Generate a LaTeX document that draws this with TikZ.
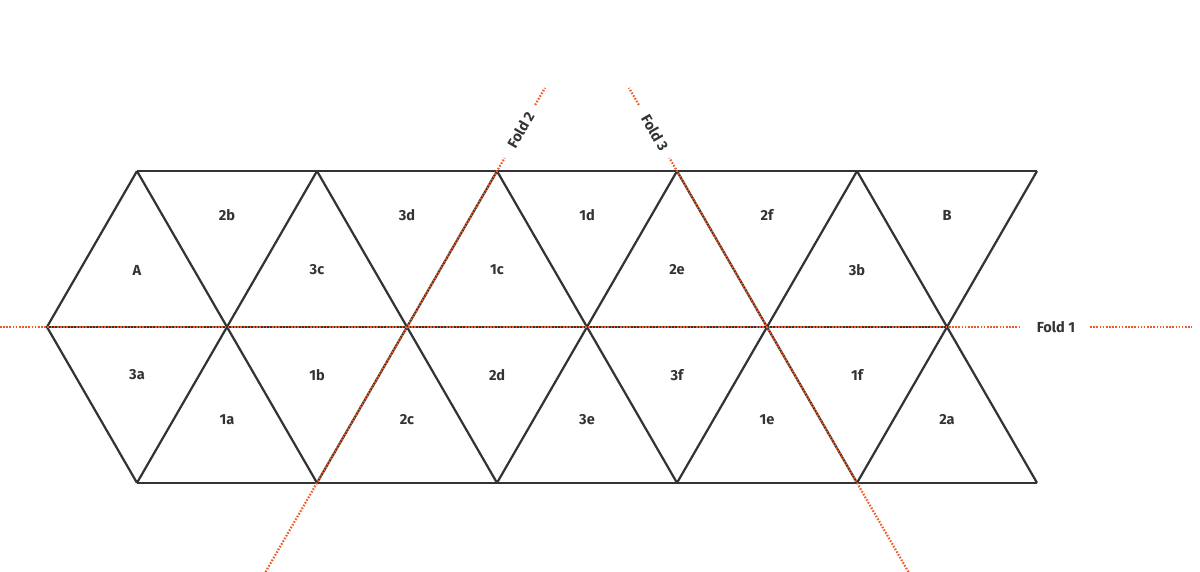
\documentclass[tikz,border=0pt]{standalone}
\usepackage{fontspec}
\setmainfont{Fira Sans}
\definecolor{foldorange}{RGB}{240,90,40}
\tikzset{fold/.style={color=foldorange,line width=0.7pt,dash pattern=on 0.5pt off 0.5pt}}
\begin{document}
\begin{tikzpicture}[line width=0.7pt,color=black!80,inner sep=0.5pt,font=\fontsize{4.6}{5}\selectfont\bfseries]
\useasboundingbox (-0.522,-2.722) rectangle (12.811,3.633);
% strip edges
\draw (1,1.732)--(11,1.732);
\draw (1,-1.732)--(11,-1.732);
\draw (0,0)--(10,0);
\draw (1,1.732)--(0,0)--(1,-1.732);
\foreach \x in {3,5,...,11} \draw (\x,1.732)--(\x-2,-1.732);
\foreach \x in {1,3,...,9} \draw (\x,1.732)--(\x+2,-1.732);
% upper row
\node (A) at (1,0.633) {A};
\node (t2b) at (2,1.244) {2b};
\node (t3c) at (3,0.633) {3c};
\node (t3d) at (4,1.244) {3d};
\node (t1c) at (5,0.633) {1c};
\node (t1d) at (6,1.244) {1d};
\node (t2e) at (7,0.633) {2e};
\node (t2f) at (8,1.244) {2f};
\node (t3b) at (9,0.633) {3b};
\node (B) at (10,1.244) {B};
% lower row
\node (t3a) at (1,-0.533) {3a};
\node (t1a) at (2,-1.033) {1a};
\node (t1b) at (3,-0.533) {1b};
\node (t2c) at (4,-1.033) {2c};
\node (t2d) at (5,-0.533) {2d};
\node (t3e) at (6,-1.033) {3e};
\node (t3f) at (7,-0.533) {3f};
\node (t1e) at (8,-1.033) {1e};
\node (t1f) at (9,-0.533) {1f};
\node (t2a) at (10,-1.033) {2a};
% folds
\draw[fold] (-0.522,0)--(10.83,0);
\node (fold1) at (11.21,0) {Fold 1};
\draw[fold] (11.59,0)--(12.72,0);
\draw[fold] (2.428,-2.722)--(5,1.732)--(5.084,1.878);
\node[rotate=60] (fold2) at (5.264,2.189) {Fold 2};
\draw[fold] (5.424,2.467)--(5.533,2.656);
\draw[fold] (9.571,-2.722)--(7,1.732)--(6.916,1.878);
\node[rotate=-60] (fold3) at (6.755,2.16) {Fold 3};
\draw[fold] (6.576,2.467)--(6.467,2.656);
\end{tikzpicture}
\end{document}
